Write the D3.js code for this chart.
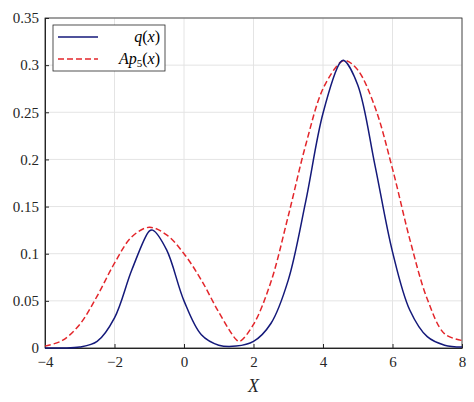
<!DOCTYPE html>
<html><head><meta charset="utf-8">
<script src="https://cdn.jsdelivr.net/npm/d3@7"></script>
<style>body{margin:0;background:#fff}</style>
</head><body>
<script>
// data
const xsQ = [-4,-3.5,-3,-2.5,-2,-1.5,-1,-0.9,-0.5,0,0.5,1,1.5,2,2.5,3,3.5,4,4.5,4.6,5,5.5,6,6.5,7,7.5,8];
const qVals = [0,0,0.001,0.007,0.032,0.083,0.124,0.125,0.104,0.05,0.014,0.003,0.002,0.007,0.026,0.072,0.155,0.249,0.303,0.305,0.279,0.193,0.102,0.04,0.012,0.003,0.001];
const xsP = [-4,-3.5,-3,-2.5,-2,-1.5,-1,-0.5,0,0.5,1,1.5,1.6,2,2.5,3,3.5,4,4.5,4.65,5,5.5,6,6.5,7,7.5,8];
const pVals = [0.002,0.008,0.025,0.055,0.09,0.118,0.128,0.12,0.1,0.072,0.038,0.009,0.007,0.025,0.07,0.14,0.215,0.275,0.303,0.305,0.295,0.255,0.19,0.115,0.052,0.015,0.008];
const xTicks = [-4,-2,0,2,4,6,8];
const yTicks = [0,0.05,0.1,0.15,0.2,0.25,0.3,0.35];

const FONT = "'Liberation Serif', 'DejaVu Serif', serif";
const W = 474, H = 402, m = {l:45, r:12, t:18, b:54};
const svg = d3.select("body").append("svg").attr("width",W).attr("height",H);
const x = d3.scaleLinear().domain([-4,8]).range([m.l, W-m.r]);
const y = d3.scaleLinear().domain([0,0.35]).range([H-m.b, m.t]);

// grid
svg.append("g").selectAll("line").data(xTicks).join("line")
  .attr("x1",d=>x(d)).attr("x2",d=>x(d)).attr("y1",y(0)).attr("y2",y(0.35))
  .attr("stroke","#e4e4e4");
svg.append("g").selectAll("line").data(yTicks).join("line")
  .attr("y1",d=>y(d)).attr("y2",d=>y(d)).attr("x1",x(-4)).attr("x2",x(8))
  .attr("stroke","#e4e4e4");

// axes
const xa = svg.append("g").attr("transform",`translate(0,${y(0)})`)
  .call(d3.axisBottom(x).tickValues(xTicks).tickSizeInner(-4).tickSizeOuter(0).tickPadding(8).tickFormat(d=>d<0?"\u2212"+(-d):d));
const ya = svg.append("g").attr("transform",`translate(${x(-4)},0)`)
  .call(d3.axisLeft(y).tickValues(yTicks).tickSizeInner(-4).tickSizeOuter(0).tickPadding(6).tickFormat(d=>d));
[xa,ya].forEach(a=>{a.attr("font-family",FONT);
  a.selectAll("text").attr("font-family",FONT).attr("font-size",15).attr("fill","#262626");
  a.selectAll("line,path").attr("stroke","#262626");});
svg.append("rect").attr("x",x(-4)).attr("y",y(0.35)).attr("width",x(8)-x(-4)).attr("height",y(0)-y(0.35))
  .attr("fill","none").attr("stroke","#262626").attr("stroke-width",0.8);

svg.append("text").attr("x",(x(-4)+x(8))/2).attr("y",392).attr("text-anchor","middle").attr("font-family",FONT)
  .attr("font-size",18).attr("font-style","italic").attr("fill","#262626").text("X");

// curves
const line = d3.line().curve(d3.curveCatmullRom.alpha(0.5));
svg.append("path").attr("d",line(xsP.map((d,i)=>[x(d),y(pVals[i])])))
  .attr("fill","none").attr("stroke","#e3262b").attr("stroke-width",1.5).attr("stroke-dasharray","6,3");
svg.append("path").attr("d",line(xsQ.map((d,i)=>[x(d),y(qVals[i])])))
  .attr("fill","none").attr("stroke","#14197a").attr("stroke-width",1.5);

// legend
const lg = svg.append("g").attr("font-family",FONT);
lg.append("rect").attr("x",53).attr("y",25).attr("width",112).attr("height",46)
  .attr("fill","#fff").attr("stroke","#262626").attr("stroke-width",0.8);
lg.append("line").attr("x1",58).attr("x2",98).attr("y1",37).attr("y2",37).attr("stroke","#14197a").attr("stroke-width",1.5);
lg.append("line").attr("x1",58).attr("x2",98).attr("y1",59).attr("y2",59).attr("stroke","#e3262b").attr("stroke-width",1.5).attr("stroke-dasharray","6,3");
const t1 = lg.append("text").attr("x",160).attr("y",42).attr("text-anchor","end").attr("font-family",FONT).attr("font-size",16).attr("fill","#000");
t1.append("tspan").attr("font-style","italic").text("q");
t1.append("tspan").text("(");
t1.append("tspan").attr("font-style","italic").text("x");
t1.append("tspan").text(")");
const t2 = lg.append("text").attr("x",160).attr("y",64).attr("text-anchor","end").attr("font-family",FONT).attr("font-size",16).attr("fill","#000");
t2.append("tspan").attr("font-style","italic").text("Ap");
t2.append("tspan").attr("font-size",11).attr("dy",3).text("5");
t2.append("tspan").attr("dy",-3).text("(");
t2.append("tspan").attr("font-style","italic").text("x");
t2.append("tspan").text(")");
</script>
</body></html>
